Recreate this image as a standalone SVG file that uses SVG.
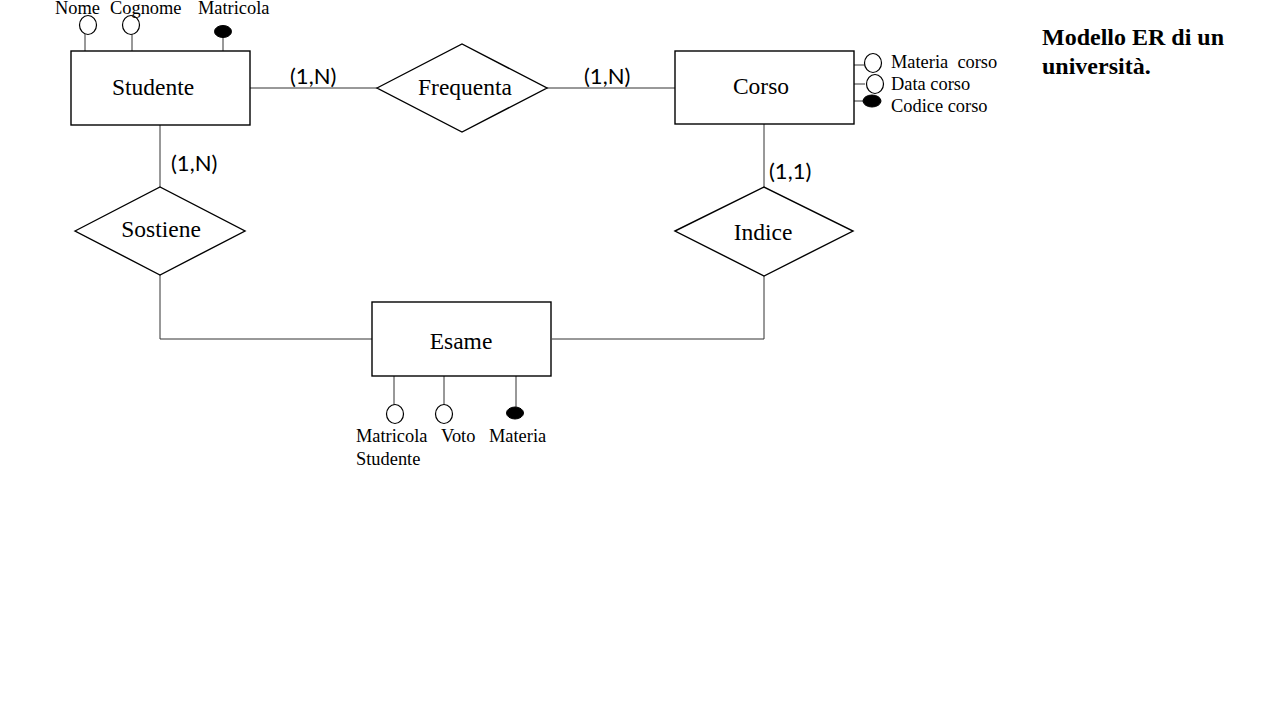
<svg xmlns="http://www.w3.org/2000/svg" width="1280" height="720" viewBox="0 0 1280 720">
<style>
.ent{fill:#fff;stroke:#000;stroke-width:1.4}
.conn{stroke:#333;stroke-width:1;fill:none}
.lbl{font-family:"Liberation Serif",serif;font-size:23.5px;fill:#000;text-anchor:middle}
.att{font-family:"Liberation Serif",serif;font-size:18.4px;fill:#000;white-space:pre}
.card{font-family:Lato,"Open Sans",sans-serif;font-size:22px;fill:#000}
.ao{fill:#fff;stroke:#000;stroke-width:1.2}
.ak{fill:#000;stroke:#000;stroke-width:1}
.title{font-family:"Liberation Serif",serif;font-size:24px;font-weight:bold;fill:#000}
</style>
<rect width="1280" height="720" fill="#fff"/>
<g id="connectors">
<line class="conn" x1="250" y1="88" x2="377" y2="88"/>
<line class="conn" x1="547" y1="88" x2="675" y2="88"/>
<line class="conn" x1="160" y1="125" x2="160" y2="187"/>
<polyline class="conn" points="160,275 160,339 372,339"/>
<line class="conn" x1="764" y1="124" x2="764" y2="187"/>
<polyline class="conn" points="764,276 764,339 552,339"/>
<line class="conn" x1="85" y1="34" x2="85" y2="51"/>
<line class="conn" x1="132" y1="34" x2="132" y2="51"/>
<line class="conn" x1="223" y1="37" x2="223" y2="51" stroke="#bbb"/>
<line class="conn" x1="854" y1="65" x2="865" y2="65"/>
<line class="conn" x1="854" y1="84" x2="865" y2="84"/>
<line class="conn" x1="854" y1="101" x2="864" y2="101"/>
<line class="conn" x1="394" y1="376" x2="394" y2="405"/>
<line class="conn" x1="444" y1="376" x2="444" y2="405"/>
<line class="conn" x1="516" y1="376" x2="516" y2="407"/>
<text class="card" x="290" y="84">(1,N)</text>
<text class="card" x="584" y="84">(1,N)</text>
<text class="card" x="171" y="171">(1,N)</text>
<text class="card" x="769" y="179">(1,1)</text>
</g>
<g id="studente">
<rect class="ent" x="71" y="51" width="179" height="74"/>
<text class="lbl" x="153" y="95">Studente</text>
<ellipse class="ao" cx="88" cy="25" rx="8.5" ry="9.5"/>
<ellipse class="ao" cx="131" cy="25" rx="8.5" ry="9.5"/>
<ellipse class="ak" cx="223" cy="31.5" rx="8.5" ry="6"/>
<text class="att" x="55" y="14">Nome</text>
<text class="att" x="110" y="14">Cognome</text>
<text class="att" x="198" y="14">Matricola</text>
</g>
<g id="frequenta">
<polygon class="ent" points="377,88 462,44 547,88 462,132"/>
<text class="lbl" x="465" y="95">Frequenta</text>
</g>
<g id="corso">
<rect class="ent" x="675" y="51" width="179" height="73"/>
<text class="lbl" x="761" y="94">Corso</text>
<ellipse class="ao" cx="873" cy="63" rx="8.5" ry="9.5"/>
<ellipse class="ao" cx="875" cy="84" rx="8.5" ry="9.5"/>
<ellipse class="ak" cx="872" cy="101" rx="9" ry="6"/>
<text class="att" x="891" y="68" xml:space="preserve">Materia  corso</text>
<text class="att" x="891" y="90">Data corso</text>
<text class="att" x="891" y="112">Codice corso</text>
</g>
<g id="sostiene">
<polygon class="ent" points="75,231 160,187 245,231 160,275"/>
<text class="lbl" x="161" y="237">Sostiene</text>
</g>
<g id="indice">
<polygon class="ent" points="675,231 764,187 853,231 764,276"/>
<text class="lbl" x="763" y="240">Indice</text>
</g>
<g id="esame">
<rect class="ent" x="372" y="302" width="179" height="74"/>
<text class="lbl" x="461" y="349">Esame</text>
<ellipse class="ao" cx="395" cy="414" rx="8.5" ry="9.5"/>
<ellipse class="ao" cx="444" cy="414" rx="8.5" ry="9.5"/>
<ellipse class="ak" cx="515" cy="413" rx="8.5" ry="6"/>
<text class="att" x="356" y="442">Matricola</text>
<text class="att" x="356" y="465">Studente</text>
<text class="att" x="441" y="442">Voto</text>
<text class="att" x="489" y="442">Materia</text>
</g>
<g id="title">
<text class="title" x="1042" y="45">Modello ER di un</text>
<text class="title" x="1042" y="74">università.</text>
</g>
</svg>
